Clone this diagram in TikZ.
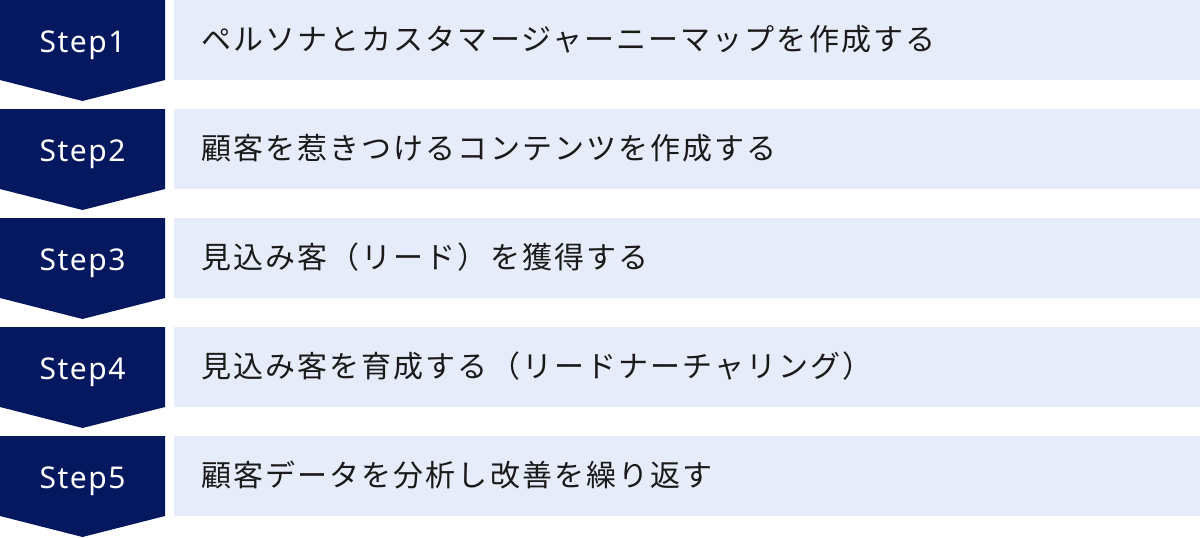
\documentclass[tikz,border=0pt]{standalone}
\usepackage{fontspec}
\usepackage{tikz}
\newfontfamily\jpfont{Noto Sans CJK JP}[LetterSpace=7]
\newfontfamily\stepfont{Noto Sans}[LetterSpace=5]
\definecolor{stepnavy}{RGB}{4,24,96}
\definecolor{taskblue}{RGB}{230,236,249}
\definecolor{taskink}{RGB}{26,26,26}
\tikzset{steplabel/.style = {anchor=base, inner sep=0pt, text=white,
                             font=\fontsize{30}{36}\stepfont},
         tasklabel/.style = {anchor=base west, inner sep=0pt, text=taskink,
                             font=\fontsize{30}{36}\jpfont}}

\begin{document}
\begin{tikzpicture}[x=1pt,y=-1pt]
    \useasboundingbox (0,0) rectangle (1200,538);
    \foreach \i/\task in {1/{ペルソナとカスタマージャーニーマップを作成する},
                          2/{顧客を惹きつけるコンテンツを作成する},
                          3/{見込み客（リード）を獲得する},
                          4/{見込み客を育成する（リードナーチャリング）},
                          5/{顧客データを分析し改善を繰り返す}} {
      \pgfmathsetmacro{\y}{(\i-1)*109}
      \fill [stepnavy] (0,\y) -- (165,\y) -- (165,\y+80) -- (82.5,\y+101) -- (0,\y+80) -- cycle;
      \fill [taskblue] (174,\y) rectangle (1200,\y+80);
      \node [steplabel] (step\i) at (82.5,\y+52) {Step\i};
      \node [tasklabel] (task\i) at (201,\y+50) {\task};
    }
\end{tikzpicture}
\end{document}
